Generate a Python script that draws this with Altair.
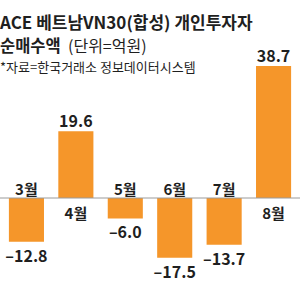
import altair as alt
import pandas as pd

months = ["3월", "4월", "5월", "6월", "7월", "8월"]
values = [-12.8, 19.6, -6.0, -17.5, -13.7, 38.7]
value_labels = ["–12.8", "19.6", "–6.0", "–17.5", "–13.7", "38.7"]

title1 = "ACE 베트남VN30(합성) 개인투자자"
title2a = "순매수액"
title2b = "(단위=억원)"
source = "*자료=한국거래소 정보데이터시스템"

df = pd.DataFrame({"month": months, "value": values, "vlabel": value_labels})

FONT = "Liberation Sans Narrow, Noto Sans CJK KR, sans-serif"
KFONT = "Noto Sans CJK KR, sans-serif"
ORANGE = "#F5962A"
TXT = "#1f1f1f"

x = alt.X("month:N", sort=months, axis=None,
          scale=alt.Scale(paddingInner=0.29, paddingOuter=0.18))
y_scale = alt.Scale(domain=[-28.15, 58.06], nice=False, zero=False)

base = alt.Chart(df)

bars = base.mark_bar(color=ORANGE).encode(
    x=x, y=alt.Y("value:Q", scale=y_scale, axis=None), y2=alt.datum(0)
)

rule = alt.Chart(alt.Data(values=[{"z": 0}])).mark_rule(color="#9a9a9a", strokeWidth=1).encode(
    y=alt.Y("z:Q", scale=y_scale), x=alt.value(0), x2=alt.value(300)
)

val_pos = base.transform_filter("datum.value >= 0").mark_text(
    font=FONT, fontSize=16, fontWeight="bold", color=TXT, baseline="bottom", dy=-1
).encode(x=x, y=alt.Y("value:Q", scale=y_scale), text="vlabel:N")

val_neg = base.transform_filter("datum.value < 0").mark_text(
    font=FONT, fontSize=16, fontWeight="bold", color=TXT, baseline="top", dy=7
).encode(x=x, y=alt.Y("value:Q", scale=y_scale), text="vlabel:N")

mon_pos = base.transform_filter("datum.value >= 0").transform_calculate(zero="0").mark_text(
    font=FONT, fontSize=15, fontWeight="bold", color=TXT, baseline="top", dy=9
).encode(x=x, y=alt.Y("zero:Q", scale=y_scale), text="month:N")

mon_neg = base.transform_filter("datum.value < 0").transform_calculate(zero="0").mark_text(
    font=FONT, fontSize=15, fontWeight="bold", color=TXT, baseline="bottom", dy=0
).encode(x=x, y=alt.Y("zero:Q", scale=y_scale), text="month:N")

one = alt.Data(values=[{"a": 1}])
t1 = alt.Chart(one).mark_text(
    text=title1, font=KFONT, fontSize=17, fontWeight="bold", color=TXT,
    align="left", baseline="middle"
).encode(x=alt.value(0), y=alt.value(24))
t2a = alt.Chart(one).mark_text(
    text=title2a, font=KFONT, fontSize=16.5, fontWeight="bold", color=TXT,
    align="left", baseline="middle"
).encode(x=alt.value(0), y=alt.value(47))
t2b = alt.Chart(one).mark_text(
    text=title2b, font=KFONT, fontSize=16, fontWeight="normal", color=TXT,
    align="left", baseline="middle"
).encode(x=alt.value(68), y=alt.value(47))
t3 = alt.Chart(one).mark_text(
    text=source, font=KFONT, fontSize=13, fontWeight="normal", color=TXT,
    align="left", baseline="middle"
).encode(x=alt.value(0), y=alt.value(68))

chart = alt.layer(bars, rule, val_pos, val_neg, mon_pos, mon_neg, t1, t2a, t2b, t3).properties(
    width=300, height=294, padding=0, autosize=alt.AutoSizeParams(type="none"),
    background="white"
).configure_view(stroke=None)

chart.save("out.html", embed_options={"renderer": "svg", "actions": False})
